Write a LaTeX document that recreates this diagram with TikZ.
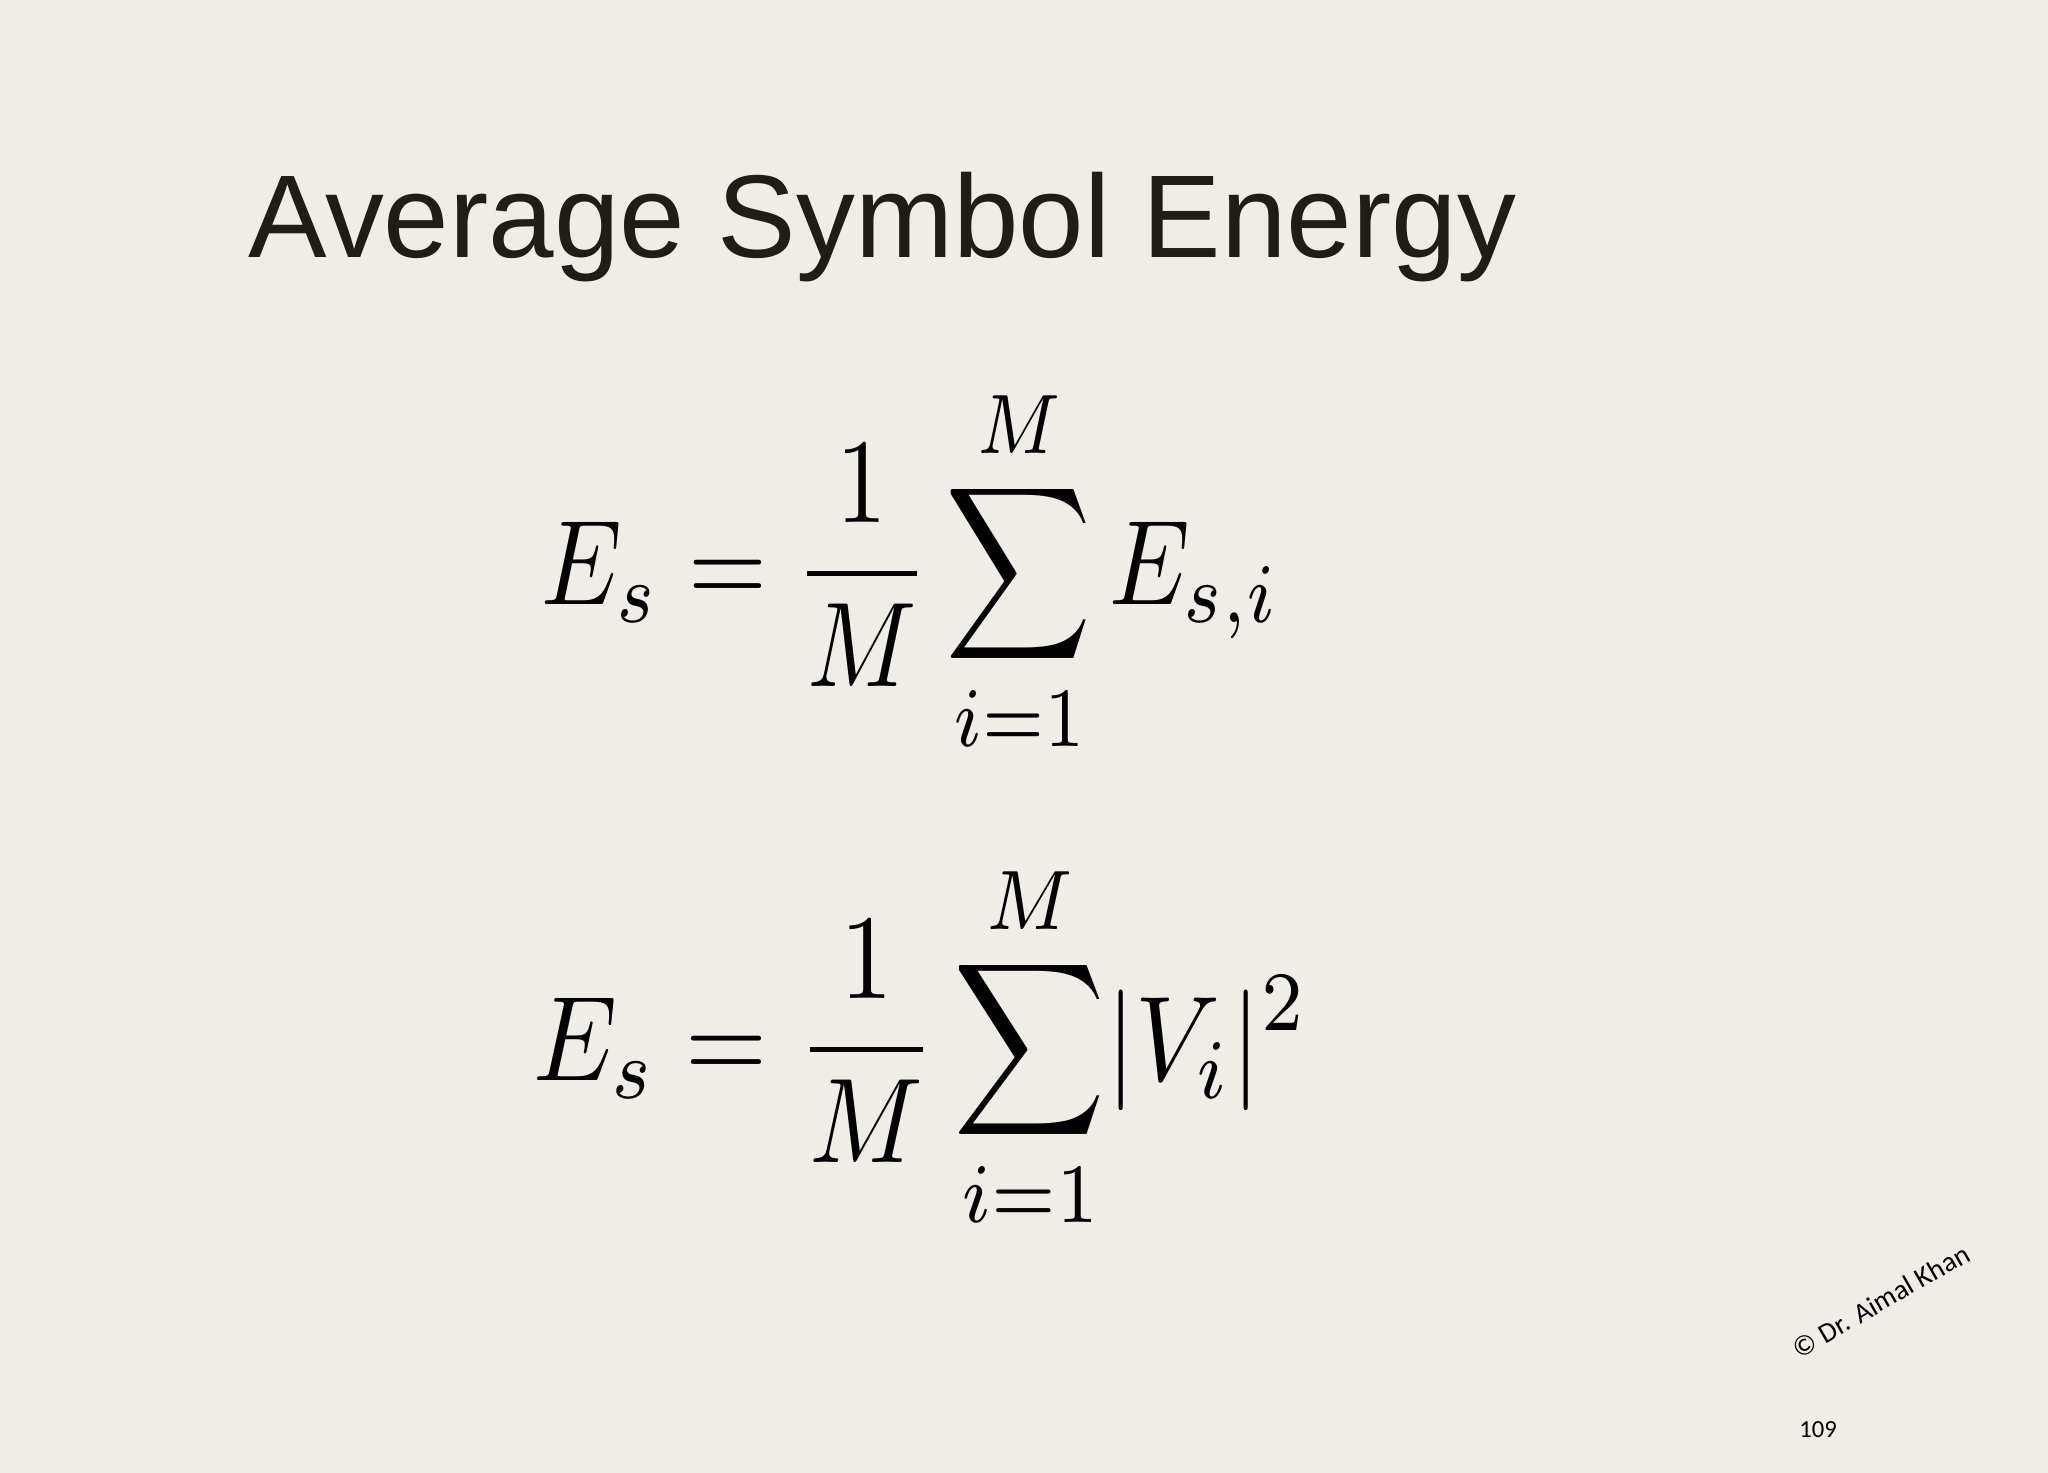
\documentclass[tikz,border=0pt]{standalone}
\usepackage{fontspec}
\usepackage{amsmath}
\usepackage{graphicx}
\setmainfont{Liberation Sans}
\newfontfamily\calib{Carlito}
\definecolor{bg}{HTML}{F0EDE7}
\definecolor{ink}{HTML}{1E1E16}
\begin{document}
\begin{tikzpicture}
\fill[bg] (0,0) rectangle (20.48,14.73);
\useasboundingbox (0,0) rectangle (20.48,14.73);
\node[anchor=base west,inner sep=0,text=ink,font=\fontsize{33.5}{40}\selectfont] (title) at (2.48,12.15) {Average Symbol Energy};
\node[inner sep=0] (eq1) at (9.11,9.02) {\resizebox*{7.38cm}{3.75cm}{$\displaystyle E_s=\frac{1}{M}\sum_{i=1}^{M}E_{s,i}$}};
\node[inner sep=0] (eq2) at (9.21,4.26) {\resizebox*{7.75cm}{3.75cm}{$\displaystyle E_s=\frac{1}{M}\sum_{i=1}^{M}\lvert V_i\rvert^2$}};
\node[rotate=30,inner sep=0,font=\calib\fontsize{8}{10}\selectfont] (wm) at (18.81,1.72) {© Dr. Aimal Khan};
\node[inner sep=0,font=\calib\fontsize{7}{9}\selectfont] (pg) at (18.18,0.43) {109};
\end{tikzpicture}
\end{document}
